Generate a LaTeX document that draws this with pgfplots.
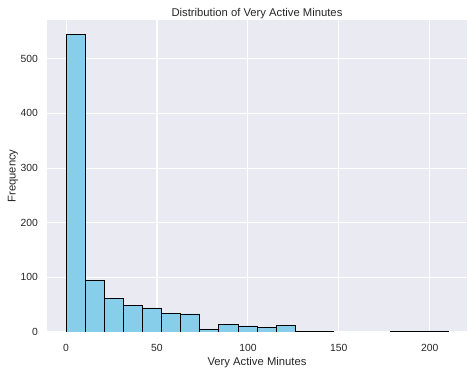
\documentclass[border=0pt]{standalone}
\usepackage{pgfplots}
\pgfplotsset{compat=1.18}
\usepackage{fontspec}
\setmainfont{Liberation Sans}
\definecolor{bgc}{HTML}{EAEAF2}
\definecolor{skyb}{RGB}{135,206,235}
\definecolor{txt}{HTML}{262626}
\begin{document}
\begin{tikzpicture}[x=1bp,y=1bp]
\begin{axis}[
  at={(0,0)}, anchor=south west,
  scale only axis, width=420bp, height=312bp,
  xmin=-10.5, xmax=220.5, ymin=0, ymax=571,
  axis background/.style={fill=bgc},
  axis line style={draw=none},
  major tick length=0pt,
  xtick={0,50,100,150,200},
  ytick={0,100,200,300,400,500},
  grid=major,
  major grid style={white, line width=1.1bp},
  /pgf/number format/assume math mode=true,
  tick label style={font=\fontsize{10.4}{12}\selectfont, text=txt, inner sep=0pt},
  xticklabel style={anchor=center, yshift=-16bp},
  yticklabel style={anchor=east, xshift=-9bp},
  xlabel={Very Active Minutes},
  ylabel={Frequency},
  label style={font=\fontsize{11.3}{13}\selectfont, text=txt, inner sep=0pt},
  xlabel style={at={(axis description cs:0.5,-0.0977)}, anchor=center},
  ylabel style={at={(axis description cs:-0.081,0.5)}, anchor=center, rotate=0},
  every axis title shift/.style={yshift=0pt},
  title={Distribution of Very Active Minutes},
  title style={font=\fontsize{11.3}{13}\selectfont, text=txt, inner sep=0pt,
    at={(axis description cs:0.5,1.0256)}, anchor=center, yshift=-8bp},
]
\addplot[ybar, bar width=10.5, fill=skyb, draw=black, line width=0.8bp] coordinates {
(5.25,544) (15.75,94) (26.25,62) (36.75,48) (47.25,44) (57.75,34) (68.25,33)
(78.75,5) (89.25,14) (99.75,11) (110.25,9) (120.75,12) (131.25,1) (141.75,1)
(183.75,1) (194.25,1) (204.75,2)
};
\end{axis}
\pgfresetboundingbox
\path[use as bounding box] (-47bp,-40bp) rectangle (427bp,332bp);
\end{tikzpicture}
\end{document}
